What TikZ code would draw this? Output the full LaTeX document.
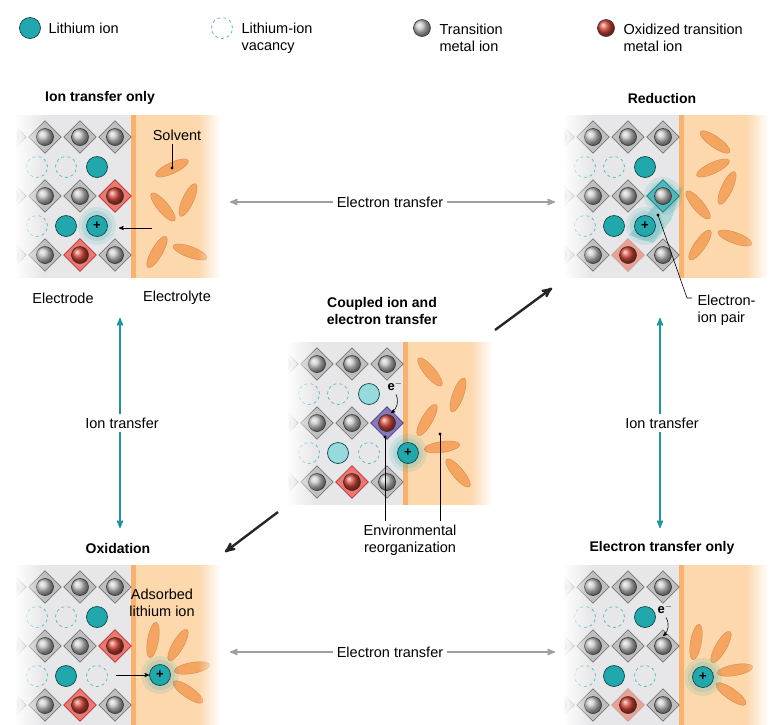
\documentclass[tikz,border=0pt]{standalone}
\usepackage{fontspec}
\setmainfont{Liberation Sans}
\usetikzlibrary{positioning,arrows,shapes.geometric,fadings}

\definecolor{li}{RGB}{32,168,172}
\definecolor{lidark}{RGB}{15,70,75}
\definecolor{lilight}{RGB}{150,218,222}
\definecolor{elec}{RGB}{231,231,233}
\definecolor{lyte}{RGB}{253,216,172}
\definecolor{iface}{RGB}{248,178,110}
\definecolor{solv}{RGB}{245,165,95}
\definecolor{ox}{RGB}{215,70,55}

\tikzset{
  diam/.style={rectangle,rotate=45,minimum size=23pt,inner sep=0pt,fill=gray!50,draw=gray!80!black,line width=.6pt},
  oxdiam/.style={diam,fill={rgb,255:red,236;green,120;blue,112},draw={rgb,255:red,200;green,40;blue,45}},
  fadediam/.style={diam,fill={rgb,255:red,236;green,160;blue,150},draw=none},
  pairdiam/.style={diam,fill=li!80,draw=li!70!black},
  purdiam/.style={diam,fill={rgb,255:red,135;green,118;blue,185},draw={rgb,255:red,70;green,60;blue,140}},
  metal/.style={circle,minimum size=17pt,inner sep=0pt,draw=black!80,line width=.6pt,shading=ball,ball color=gray!45},
  oxmetal/.style={metal,ball color=ox},
  lion/.style={circle,minimum size=21pt,inner sep=0pt,draw=lidark,line width=.7pt,fill=li},
  lilt/.style={lion,fill=lilight},
  vac/.style={circle,minimum size=21pt,inner sep=0pt,draw=li!80,dashed,line width=.7pt},
  liplus/.style={lion,font=\bfseries\fontsize{13}{13}\selectfont,text=black},
  solvent/.style={ellipse,minimum width=36pt,minimum height=11pt,inner sep=0pt,fill=solv,draw=solv!80!black,line width=.3pt},
  title/.style={font=\bfseries\fontsize{14}{17}\selectfont,align=center},
  lbl/.style={font=\fontsize{14.5}{17}\selectfont,align=center},
  garrow/.style={>=stealth',draw=gray!75,line width=1.6pt},
  tarrow/.style={>=stealth',draw=li!90!black,line width=1.6pt},
  karrow/.style={->,>=stealth',draw=black!85,line width=2.4pt},
  lead/.style={draw=black,line width=.6pt}
}

% panel background and grey lattice
\newcommand\cell{
  \clip (0,0) rectangle (205,163);
  \fill[elec] (0,0) rectangle (116,163);
  \fill[iface] (116,0) rectangle (121,163);
  \fill[lyte] (121,0) rectangle (205,163);
  \foreach \r in {22,81,140}
    \foreach \c in {-5,30,65,100}
      {\node[diam] at (\c,\r) {}; \node[metal] at (\c,\r) {};}
}
\newcommand\fades{
  \fill[white,path fading=east] (0,0) rectangle (28,163);
  \fill[white,path fading=west] (183,0) rectangle (205,163);
}
\newcommand\oxat[2]{\node[oxdiam] at (#1,#2) {}; \node[oxmetal] at (#1,#2) {};}
\newcommand\glow[2]{\fill[li,opacity=.12] (#1,#2) circle (19); \fill[li,opacity=.15] (#1,#2) circle (15);}

\begin{document}
\begin{tikzpicture}[x=1pt,y=-1pt]
  \useasboundingbox (0,0) rectangle (780,724);

  % legend
  \node[lion] (kli) at (30,28) {};
  \node[lbl,anchor=west] at (45,28) {Lithium ion};
  \node[vac] (kvac) at (222,28) {};
  \node[lbl,anchor=west,align=left] at (238,38) {Lithium-ion\\vacancy};
  \node[metal] (kmet) at (422,28) {};
  \node[lbl,anchor=west,align=left] at (436,38) {Transition\\metal ion};
  \node[oxmetal] (kox) at (606,28) {};
  \node[lbl,anchor=west,align=left] at (620,38) {Oxidized transition\\metal ion};

  % ion transfer only
  \node[title] at (100,98) {Ion transfer only};
  \begin{scope}[shift={(15,115)}]
    \begin{scope}
      \cell
      \oxat{100}{81} \oxat{65}{140}
      \node[vac] at (22,52) {}; \node[vac] at (51,52) {}; \node[lion] at (82,52) {};
      \node[vac] at (22,111) {}; \node[lion] at (51,111) {};
      \glow{82}{111}
      \node[liplus] (pa) at (82,111) {+};
      \node[solvent,rotate=25] (sv) at (157,53) {};
      \node[solvent,rotate=-50] at (148,92) {};
      \node[solvent,rotate=65] at (173,85) {};
      \node[solvent,rotate=60] at (142,137) {};
      \node[solvent,rotate=-20] at (175,137) {};
      \fades
    \end{scope}
    \coordinate (pa1) at (137,113);
    \draw[->,>=stealth',line width=.7pt] (pa1) -- (104,113);
    \node[lbl,anchor=south] (svl) at (162,29) {Solvent};
    \fill (sv.center) circle (1.6);
    \draw[lead] (sv.center) -- (svl.south -| sv.center);
  \end{scope}
  \node[lbl] at (63,298) {Electrode};
  \node[lbl] at (177,298) {Electrolyte};

  % reduction
  \node[title] at (662,98) {Reduction};
  \begin{scope}[shift={(563,115)}]
    \begin{scope}
      \cell
      \node[fadediam] at (65,140) {}; \node[oxmetal] at (65,140) {};
      \fill[li,opacity=.25] (100,81) -- (120,72) -- (108,105) -- (90,128) -- (66,120) -- cycle;
      \glow{100}{81} \glow{82}{111}
      \node[pairdiam] (pd) at (100,81) {}; \node[metal] at (100,81) {};
      \node[vac] at (22,52) {}; \node[vac] at (51,52) {}; \node[lion] at (82,52) {};
      \node[vac] at (22,111) {}; \node[lion] at (51,111) {};
      \node[liplus] at (82,111) {+};
      \node[solvent,rotate=-35] at (152,27) {};
      \node[solvent,rotate=25] at (150,53) {};
      \node[solvent,rotate=65] at (164,73) {};
      \node[solvent,rotate=-50] at (135,90) {};
      \node[solvent,rotate=55] at (137,130) {};
      \node[solvent,rotate=-20] at (172,123) {};
      \fades
    \end{scope}
    \coordinate (ep) at (95,100);
    \coordinate (ep1) at (124,183);
    \fill (ep) circle (1.6);
    \draw[lead] (ep) -- (ep1) -- ++(5,0);
    \node[lbl,anchor=west,align=left] at (131,195) {Electron-\\ion pair};
  \end{scope}

  % coupled
  \node[title] at (382,311) {Coupled ion and\\electron transfer};
  \begin{scope}[shift={(287,342)}]
    \begin{scope}
      \cell
      \oxat{65}{140}
      \node[purdiam] (rd) at (100,81) {}; \node[oxmetal] at (100,81) {};
      \node[vac] at (22,52) {}; \node[vac] at (51,52) {}; \node[lilt] at (82,52) {};
      \node[vac] at (22,111) {}; \node[lilt] at (51,111) {}; \node[vac] at (82,111) {};
      \node[solvent,rotate=-50] at (143,30) {};
      \node[solvent,rotate=70] at (171,53) {};
      \node[solvent,rotate=60] at (140,78) {};
      \node[solvent,rotate=8] at (155,105) {};
      \node[solvent,rotate=-50] at (171,131) {};
      \glow{121}{111}
      \node[liplus] at (121,111) {+};
      \fades
    \end{scope}
    \node[font=\bfseries\fontsize{13}{15}\selectfont] (ea) at (108,44) {e$^{-}$};
    \draw[->,>=stealth',line width=.6pt] (ea.south) ++(1,0) to[bend left=40] (104,71);
    \coordinate (er1) at (98,95);
    \coordinate (er2) at (153,92);
    \fill (er1) circle (1.6); \fill (er2) circle (1.6);
    \node[lbl] (env) at (123,198) {Environmental\\reorganization};
    \draw[lead] (er1) -- (er1 |- env.north);
    \draw[lead] (er2) -- (er2 |- env.north);
  \end{scope}

  % oxidation
  \node[title] at (118,548) {Oxidation};
  \begin{scope}[shift={(15,565)}]
    \begin{scope}
      \cell
      \oxat{100}{81} \oxat{65}{140}
      \node[vac] at (22,52) {}; \node[vac] at (51,52) {}; \node[lion] at (82,52) {};
      \node[vac] at (22,111) {}; \node[lion] at (51,111) {}; \node[vac] at (82,111) {};
      \foreach \dx/\dy/\a in {-7/-35/80,18/-30/60,32/-7/10,28/17/-35}
        \node[solvent,rotate=\a] at (145+\dx,110+\dy) {};
      \glow{145}{110}
      \node[liplus] (pb) at (145,110) {+};
      \fades
    \end{scope}
    \coordinate (pb1) at (101,110);
    \draw[->,>=stealth',line width=.7pt] (pb1) -- (pb.west);
    \node[lbl] at (147,38) {Adsorbed\\lithium ion};
  \end{scope}

  % electron transfer only
  \node[title] at (662,548) {Electron transfer only};
  \begin{scope}[shift={(563,565)}]
    \begin{scope}
      \cell
      \node[fadediam] at (65,140) {}; \node[oxmetal] at (65,140) {};
      \node[vac] at (22,52) {}; \node[vac] at (51,52) {}; \node[lion] at (82,52) {};
      \node[vac] at (22,111) {}; \node[lion] at (51,111) {}; \node[vac] at (82,111) {};
      \foreach \dx/\dy/\a in {-7/-35/80,18/-30/60,32/-7/10,28/17/-35}
        \node[solvent,rotate=\a] at (140+\dx,112+\dy) {};
      \glow{140}{112}
      \node[liplus] at (140,112) {+};
      \fades
    \end{scope}
    \node[font=\bfseries\fontsize{13}{15}\selectfont] (eb) at (102,44) {e$^{-}$};
    \draw[->,>=stealth',line width=.6pt] (eb.south) ++(1,0) to[bend left=40] (100,71);
  \end{scope}

  % connectors
  \node[lbl] (et1) at (390,202) {Electron transfer};
  \coordinate (et1l) at (230,202); \coordinate (et1r) at (555,202);
  \draw[garrow,<-] (et1l) -- (et1.west);
  \draw[garrow,->] (et1.east) -- (et1r);
  \node[lbl] (et2) at (390,652) {Electron transfer};
  \coordinate (et2l) at (230,652); \coordinate (et2r) at (555,652);
  \draw[garrow,<-] (et2l) -- (et2.west);
  \draw[garrow,->] (et2.east) -- (et2r);

  \node[lbl] (it1) at (122,423) {Ion transfer};
  \coordinate (it1t) at (120,318); \coordinate (it1b) at (120,528);
  \draw[tarrow,<-] (it1t) -- (it1.north -| it1t);
  \draw[tarrow,->] (it1.south -| it1b) -- (it1b);
  \node[lbl] (it2) at (662,423) {Ion transfer};
  \coordinate (it2t) at (660,318); \coordinate (it2b) at (660,528);
  \draw[tarrow,<-] (it2t) -- (it2.north -| it2t);
  \draw[tarrow,->] (it2.south -| it2b) -- (it2b);

  \coordinate (ka) at (495,330); \coordinate (kb) at (552,288);
  \draw[karrow] (ka) -- (kb);
  \coordinate (kc) at (278,512); \coordinate (kd) at (225,552);
  \draw[karrow] (kc) -- (kd);
\end{tikzpicture}
\end{document}
